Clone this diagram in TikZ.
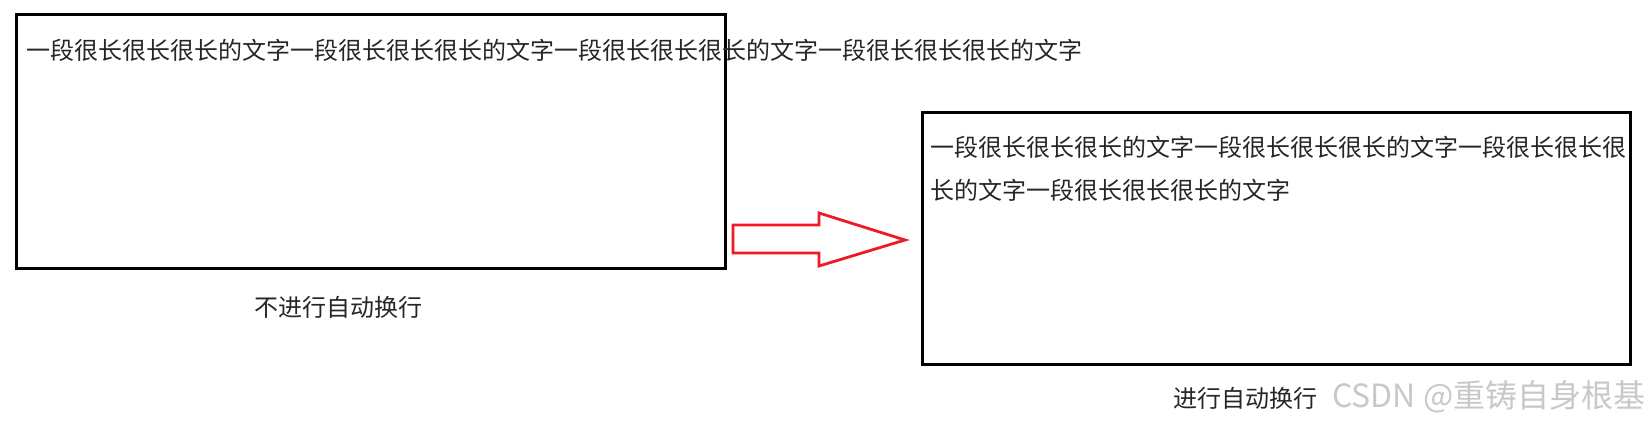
\documentclass[tikz,border=0pt]{standalone}
\usepackage{fontspec}
\newfontfamily\cjk{Noto Sans CJK SC}
\definecolor{arrowred}{RGB}{237,28,36}
\definecolor{markgray}{RGB}{200,200,200}
\tikzset{
  frame/.style={draw=black, line width=3pt, inner sep=0pt, outer sep=0pt, anchor=north west},
  body/.style={inner sep=0pt, font=\cjk\fontsize{24}{43}\selectfont, text=black!85},
  bigarrow/.style={draw=arrowred, line width=2.8pt, line join=miter},
  wmark/.style={inner sep=0pt, font=\cjk\fontsize{32}{36}\selectfont, text=markgray}
}
\begin{document}
\begin{tikzpicture}[x=1pt,y=-1pt]
\useasboundingbox (0,0) rectangle (1648,422);
\node[frame, minimum width=709pt, minimum height=253pt] (leftbox) at (16,15) {};
\node[frame, minimum width=708pt, minimum height=251pt] (rightbox) at (922,113) {};
\node[body, anchor=west] (lefttext) at (26,50) {一段很长很长很长的文字一段很长很长很长的文字一段很长很长很长的文字一段很长很长很长的文字};
\node[body, anchor=west, align=left] (righttext) at (930,168.5) {一段很长很长很长的文字一段很长很长很长的文字一段很长很长很\\长的文字一段很长很长很长的文字};
\node[body, anchor=center] (leftlabel) at (338,307) {不进行自动换行};
\node[body, anchor=west] (rightlabel) at (1173,398) {进行自动换行};
\node[wmark, anchor=west] (watermark) at (1332,397) {CSDN @重铸自身根基};
\draw[bigarrow] (733,225) -- (819,225) -- (819,213) -- (905,240) -- (819,266) -- (819,253) -- (733,253) -- cycle;
\end{tikzpicture}
\end{document}
